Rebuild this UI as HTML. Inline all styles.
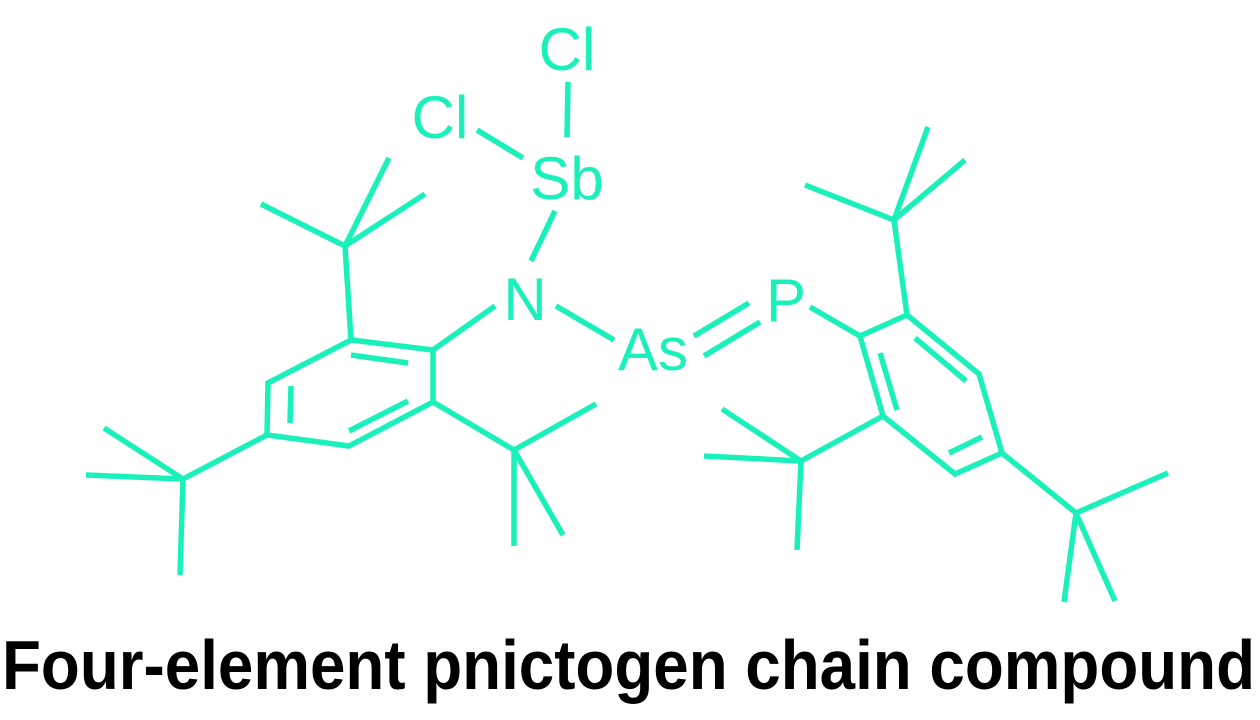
<!DOCTYPE html>
<html><head><meta charset="utf-8"><style>
html,body{margin:0;padding:0;background:#fff;width:1260px;height:720px;overflow:hidden}
</style></head><body>
<svg width="1260" height="720" viewBox="0 0 1260 720" xmlns="http://www.w3.org/2000/svg">
<g stroke="#1af0b9" stroke-width="5.5" stroke-linecap="butt" fill="none">
<!-- left ring -->
<polygon points="433,350 351,340 268,383 267,435 349,446 433,402" stroke-linejoin="miter"/>
<line x1="351" y1="355" x2="408" y2="363"/>
<line x1="291" y1="386" x2="290" y2="423"/>
<line x1="349" y1="431" x2="408" y2="401"/>
<!-- top tBu left -->
<line x1="351" y1="340" x2="345" y2="246"/>
<line x1="345" y1="246" x2="261" y2="204"/>
<line x1="345" y1="246" x2="389" y2="158"/>
<line x1="345" y1="246" x2="425" y2="194"/>
<!-- left tBu -->
<line x1="267" y1="435" x2="183" y2="479"/>
<line x1="183" y1="479" x2="104" y2="428"/>
<line x1="183" y1="479" x2="86" y2="475"/>
<line x1="183" y1="479" x2="180" y2="575"/>
<!-- bottom tBu left -->
<line x1="433" y1="402" x2="514" y2="450"/>
<line x1="514" y1="450" x2="596" y2="404"/>
<line x1="514" y1="450" x2="514" y2="546"/>
<line x1="514" y1="450" x2="563" y2="535"/>
<!-- N bonds -->
<line x1="433" y1="350" x2="495" y2="306"/>
<line x1="531" y1="261" x2="555" y2="211"/>
<line x1="556" y1="306" x2="614" y2="340"/>
<!-- Sb-Cl -->
<line x1="477" y1="130" x2="523" y2="158"/>
<line x1="568" y1="82" x2="567" y2="137"/>
<!-- As=P -->
<line x1="694" y1="336" x2="749" y2="303"/>
<line x1="704" y1="356" x2="760" y2="322"/>
<!-- P-ring -->
<line x1="810" y1="307" x2="860" y2="336"/>
<!-- right ring -->
<polygon points="860,336 907,315 979,374 1002,453 955,474 883,416"/>
<line x1="915" y1="338" x2="966" y2="381"/>
<line x1="880" y1="353" x2="897" y2="410"/>
<line x1="982" y1="437" x2="949" y2="453"/>
<!-- top tBu right -->
<line x1="907" y1="315" x2="894" y2="220"/>
<line x1="894" y1="220" x2="805" y2="185"/>
<line x1="894" y1="220" x2="928" y2="127"/>
<line x1="894" y1="220" x2="965" y2="160"/>
<!-- bottom-left tBu right -->
<line x1="883" y1="416" x2="801" y2="461"/>
<line x1="801" y1="461" x2="722" y2="409"/>
<line x1="801" y1="461" x2="704" y2="456"/>
<line x1="801" y1="461" x2="797" y2="550"/>
<!-- bottom-right tBu -->
<line x1="1002" y1="453" x2="1076" y2="513"/>
<line x1="1076" y1="513" x2="1168" y2="473"/>
<line x1="1076" y1="513" x2="1064" y2="602"/>
<line x1="1076" y1="513" x2="1115" y2="601"/>
</g>
<g fill="#1af0b9" font-family="Liberation Sans, sans-serif" font-size="60" text-anchor="middle">
<text x="567" y="70">Cl</text>
<text x="440" y="138">Cl</text>
<text x="567" y="199">Sb</text>
<text x="525" y="320">N</text>
<text x="653" y="370">As</text>
<text x="786" y="321">P</text>
</g>
<text x="2" y="689" font-family="Liberation Sans, sans-serif" font-weight="bold" font-size="70" fill="#000" textLength="1253" lengthAdjust="spacingAndGlyphs">Four-element pnictogen chain compound</text>
</svg>
</body></html>
